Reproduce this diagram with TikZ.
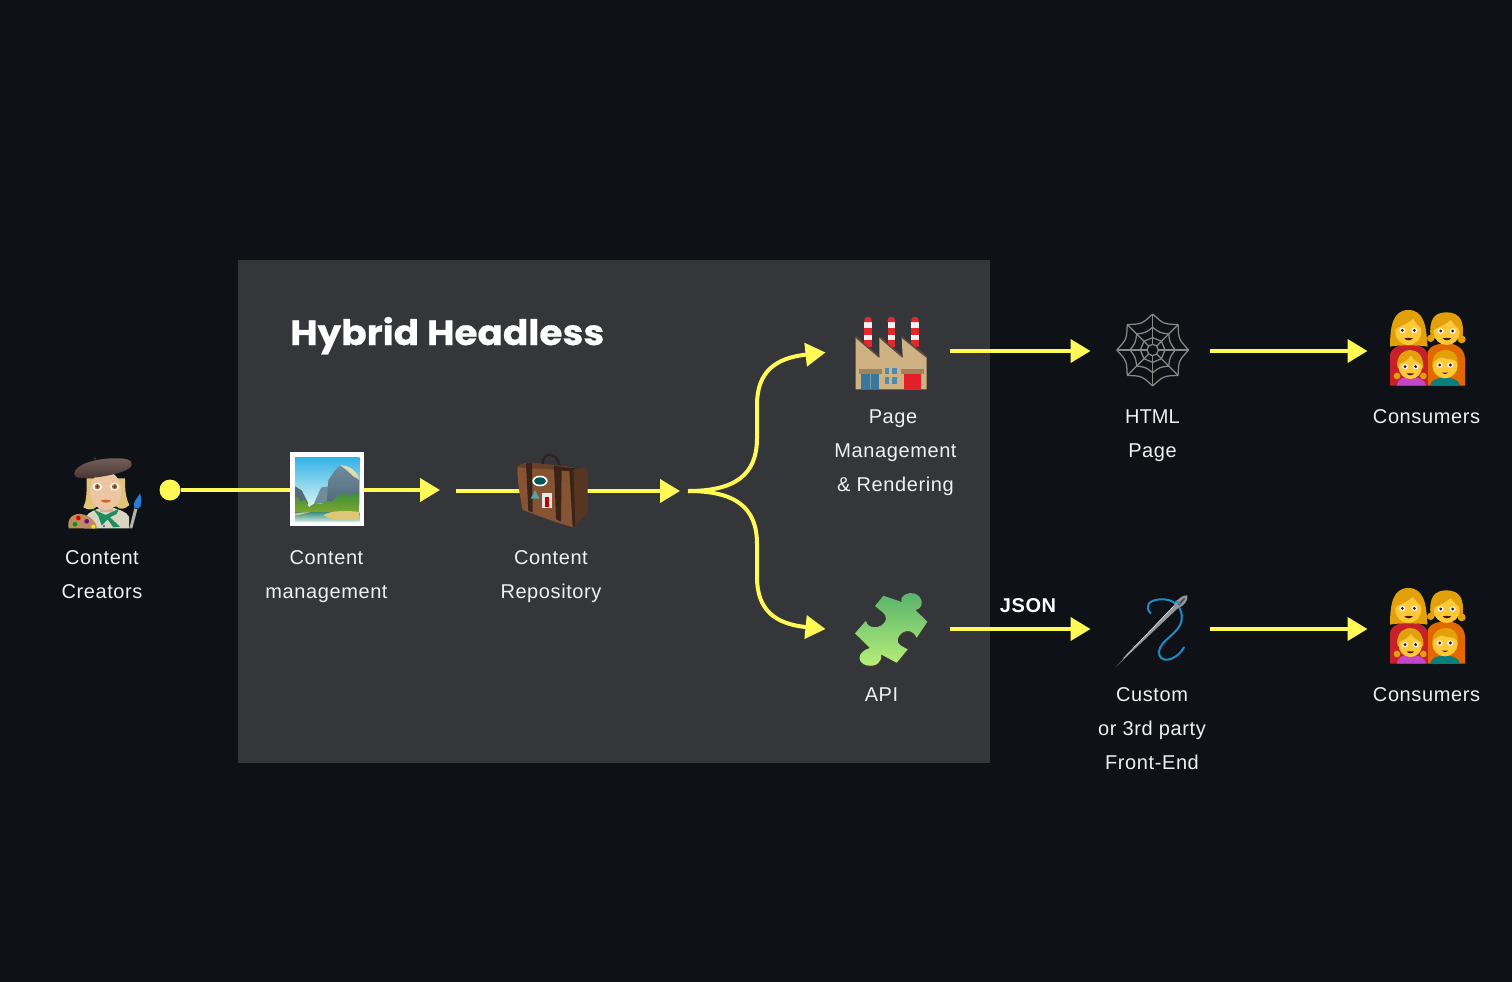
\documentclass[tikz,border=0pt]{standalone}
\usepackage{fontspec}
\usetikzlibrary{arrows.meta}
\setmainfont{Liberation Sans}
\newfontfamily\labfont[LetterSpace=3]{Liberation Sans}
\newfontfamily\tightlab[LetterSpace=0.5]{Liberation Sans}
\newfontfamily\jsonfont[LetterSpace=3]{Liberation Sans}
\newfontfamily\titlefont[FakeStretch=1.07,FakeBold=0.6]{Poppins}
\definecolor{pagebg}{RGB}{14,17,22}
\definecolor{panelbg}{RGB}{53,54,58}
\definecolor{ylw}{RGB}{255,250,85}
\definecolor{labtxt}{RGB}{240,240,240}
\definecolor{fhair}{RGB}{226,160,10}
\definecolor{fface}{RGB}{255,200,55}
\definecolor{fred}{RGB}{198,32,40}
\definecolor{forange}{RGB}{226,104,0}
\definecolor{fpink}{RGB}{196,70,200}
\definecolor{fteal}{RGB}{10,125,125}
\definecolor{fmouth}{RGB}{70,30,20}
\definecolor{askin}{RGB}{236,198,162}
\definecolor{ahair}{RGB}{226,196,120}
\definecolor{aberetA}{RGB}{116,94,90}
\definecolor{aberetB}{RGB}{72,54,52}
\definecolor{ashirt}{RGB}{216,213,196}
\definecolor{ascarf}{RGB}{30,140,92}
\definecolor{apal}{RGB}{186,140,96}
\definecolor{abrush}{RGB}{40,125,210}
\definecolor{skyA}{RGB}{50,178,232}
\definecolor{skyB}{RGB}{214,242,240}
\definecolor{rockA}{RGB}{112,138,158}
\definecolor{rockB}{RGB}{82,106,122}
\definecolor{domec}{RGB}{232,218,168}
\definecolor{treeA}{RGB}{58,140,62}
\definecolor{treeB}{RGB}{128,168,44}
\definecolor{waterA}{RGB}{60,140,120}
\definecolor{waterB}{RGB}{200,232,225}
\definecolor{sandc}{RGB}{222,200,120}
\definecolor{scFront}{RGB}{134,84,50}
\definecolor{scTop}{RGB}{104,64,38}
\definecolor{scSide}{RGB}{86,54,32}
\definecolor{scStrap}{RGB}{58,36,24}
\definecolor{scHandle}{RGB}{44,34,32}
\definecolor{fabWall}{RGB}{206,178,132}
\definecolor{fabRoof}{RGB}{98,74,60}
\definecolor{fabAwn}{RGB}{160,130,95}
\definecolor{fabDoor}{RGB}{56,120,155}
\definecolor{fabWin}{RGB}{76,140,172}
\definecolor{fabRed}{RGB}{226,30,40}
\definecolor{fabChim}{RGB}{226,40,44}
\definecolor{pzA}{RGB}{88,178,108}
\definecolor{pzB}{RGB}{186,240,122}
\definecolor{pzS}{RGB}{80,62,30}
\definecolor{webc}{RGB}{136,136,136}
\definecolor{threadc}{RGB}{30,140,200}
\definecolor{needlec}{RGB}{150,150,152}
\tikzset{
  conn/.style={draw=ylw,line width=4pt,-{Triangle[length=20pt,width=23pt,fill=ylw]}},
  lab/.style={text=labtxt,font=\labfont\fontsize{20}{34}\selectfont,align=center,inner sep=0pt,anchor=base},
  icon/.style={x=0.33333pt,y=-0.33333pt},
  thr/.style={line cap=round,line join=round},
}
\newcommand{\eyes}[3]{% x, y, spacing
  \fill[white] (#1-#3,#2) ellipse [x radius=9,y radius=8];
  \fill[white] (#1+#3,#2) ellipse [x radius=9,y radius=8];
  \fill[fmouth] (#1-#3,#2) circle (5);
  \fill[fmouth] (#1+#3,#2) circle (5);
}
\newcommand{\familyicon}{%
  \fill[fred] (15,242) -- (15,150) .. controls (18,128) and (45,118) .. (70,118) .. controls (95,118) and (125,125) .. (128,150) -- (128,242) -- cycle;
  \fill[forange] (128,242) -- (128,140) .. controls (135,122) and (160,115) .. (185,115) .. controls (210,115) and (238,128) .. (240,160) -- (240,242) -- cycle;
  % left adult
  \fill[fhair] (15,125) .. controls (15,60) and (25,15) .. (70,15) .. controls (115,15) and (125,60) .. (127,125) .. controls (110,120) and (30,120) .. (15,125) -- cycle;
  \fill[fface] (70,80) ellipse [x radius=39,y radius=40];
  \fill[fhair] (30,72) .. controls (50,62) and (70,55) .. (85,40) .. controls (92,55) and (100,62) .. (112,72) .. controls (105,22) and (38,22) .. (30,72) -- cycle;
  \eyes{70}{76}{18}
  \fill[fmouth] (58,100) .. controls (65,108) and (76,108) .. (84,100) .. controls (76,98) and (65,98) .. (58,100) -- cycle;
  % right adult
  \fill[fhair] (137,100) .. controls (130,40) and (150,22) .. (185,22) .. controls (225,22) and (240,50) .. (232,100) -- cycle;
  \fill[fhair] (137,100) circle (11);
  \fill[fhair] (230,103) circle (12);
  \fill[fface] (185,82) ellipse [x radius=39,y radius=38];
  \fill[fhair] (146,74) .. controls (165,64) and (185,58) .. (198,43) .. controls (205,58) and (215,65) .. (225,74) .. controls (220,28) and (155,28) .. (146,74) -- cycle;
  \eyes{185}{78}{18}
  \fill[fmouth] (173,100) .. controls (180,108) and (191,108) .. (199,100) .. controls (191,98) and (180,98) .. (173,100) -- cycle;
  % girl
  \fill[fpink] (35,242) .. controls (38,222) and (55,215) .. (75,215) .. controls (95,215) and (120,222) .. (124,242) -- cycle;
  \fill[fhair] (36,213) circle (10);
  \fill[fhair] (115,213) circle (10);
  \fill[fhair] (36,178) .. controls (38,145) and (60,135) .. (75,135) .. controls (95,135) and (117,150) .. (115,190) -- (38,190) -- cycle;
  \fill[fface] (76,187) circle (35);
  \fill[fhair] (40,178) .. controls (60,170) and (70,165) .. (78,150) .. controls (85,165) and (95,170) .. (112,178) .. controls (107,142) and (48,142) .. (40,178) -- cycle;
  \eyes{76}{185}{16}
  \fill[fmouth] (65,205) .. controls (70,213) and (82,213) .. (87,205) -- cycle;
  % boy
  \fill[fteal] (135,242) .. controls (138,225) and (155,218) .. (180,218) .. controls (205,218) and (222,225) .. (225,242) -- cycle;
  \fill[fface] (180,182) circle (38);
  \fill[fhair] (142,174) .. controls (143,145) and (165,135) .. (182,135) .. controls (205,135) and (220,150) .. (218,174) .. controls (205,158) and (190,165) .. (175,158) .. controls (165,155) and (155,162) .. (142,174) -- cycle;
  \eyes{180}{180}{16}
  \fill[fmouth] (170,203) .. controls (175,209) and (185,209) .. (190,203) -- cycle;
}
\begin{document}
\begin{tikzpicture}[x=1pt,y=-1pt]
\useasboundingbox (0,0) rectangle (1512,982);
\fill[pagebg] (0,0) rectangle (1512,982);
\fill[panelbg] (238,260) rectangle (990,763);

% anchors
\node[circle,fill=ylw,minimum size=21pt,inner sep=0pt] (dot) at (170,490) {};
\coordinate (a1) at (440,490);
\coordinate (b0) at (456,491);
\coordinate (b1) at (680,491);
\coordinate (split) at (688,491);
\coordinate (pagein) at (825.5,352.5);
\coordinate (apiin) at (825.5,629);
\coordinate (c0) at (950,351);
\coordinate (c1) at (1090.5,351);
\coordinate (d0) at (1210,351);
\coordinate (d1) at (1367.5,351);
\coordinate (e0) at (950,629);
\coordinate (e1) at (1090.5,629);
\coordinate (f0) at (1210,629);
\coordinate (f1) at (1367.5,629);

% connectors
\draw[conn] (dot) -- (a1);
\draw[conn] (b0) -- (b1);
\draw[conn] (split) .. controls (735,491) and (757,475) .. (757,438) -- (757,405) .. controls (757,372) and (775,358) .. (pagein);
\draw[conn] (split) .. controls (735,491) and (757,507) .. (757,544) -- (757,577) .. controls (757,610) and (775,624) .. (apiin);
\draw[conn] (c0) -- (c1);
\draw[conn] (d0) -- (d1);
\draw[conn] (e0) -- (e1);
\draw[conn] (f0) -- (f1);

% artist
\begin{scope}[shift={(60,450)},icon]
  \fill[ahair] (80,85) .. controls (80,130) and (80,150) .. (70,172) .. controls (85,182) and (100,180) .. (110,170) -- (170,170) .. controls (180,180) and (195,178) .. (208,165) .. controls (195,140) and (195,110) .. (195,85) -- cycle;
  \fill[ashirt] (72,235) -- (78,200) .. controls (85,185) and (110,178) .. (125,172) -- (155,172) .. controls (175,178) and (200,185) .. (207,200) -- (207,235) -- cycle;
  \fill[askin!90!black] (120,155) rectangle (158,185);
  \fill[askin] (137,122) ellipse [x radius=47,y radius=58];
  \fill[white] (112,110) ellipse [x radius=14,y radius=12];
  \fill[white] (164,110) ellipse [x radius=14,y radius=12];
  \fill[brown!85!black] (112,110) circle (8);
  \fill[brown!85!black] (164,110) circle (8);
  \fill[black!80] (112,110) circle (3.5);
  \fill[black!80] (164,110) circle (3.5);
  \fill[brown!75!red] (122,152) .. controls (130,148) and (145,148) .. (153,152) .. controls (145,160) and (130,160) .. (122,152) -- cycle;
  \fill[aberetB] (100,28) -- (104,20) -- (110,28) -- cycle;
  \shade[top color=aberetA,bottom color=aberetB] (43,70) .. controls (45,45) and (100,26) .. (160,25) .. controls (200,24) and (217,28) .. (215,45) .. controls (212,66) and (130,82) .. (85,84) .. controls (60,86) and (42,84) .. (43,70) -- cycle;
  \fill[ascarf] (100,178) -- (137,195) -- (177,176) -- (170,192) -- (150,202) -- (180,230) -- (160,232) -- (143,208) -- (125,226) -- (115,198) -- cycle;
  \fill[black!80] (132,228) circle (3);
  \fill[black!80] (90,220) circle (2.5);
  \fill[apal] (26,235) .. controls (20,210) and (35,190) .. (62,192) .. controls (90,195) and (112,218) .. (110,235) -- cycle;
  \fill[red!90!black] (55,204) circle (7);
  \fill[violet] (80,214) circle (7);
  \fill[green!60!black] (45,223) circle (7);
  \fill[yellow!90!orange] (100,230) circle (6);
  \fill[black!30!white] (208,235) -- (223,175) -- (232,178) -- (217,235) -- cycle;
  \fill[abrush] (222,172) .. controls (218,155) and (232,145) .. (240,130) .. controls (248,150) and (245,170) .. (235,176) -- cycle;
\end{scope}

% landscape
\begin{scope}[shift={(285,447)},icon]
  \fill[white] (15,15) rectangle (238,238);
  \shade[top color=skyA,bottom color=skyB] (30,30) rectangle (223,175);
  \fill[rockB] (30,118) -- (50,130) -- (70,170) -- (30,175) -- cycle;
  \fill[rockA] (88,168) -- (108,122) -- (130,118) -- (140,170) -- cycle;
  \shade[top color=rockA,bottom color=rockB] (125,172) -- (130,100) -- (150,70) -- (165,55) -- (195,80) -- (222,100) -- (222,172) -- cycle;
  \fill[domec] (165,55) .. controls (195,55) and (215,72) .. (222,95) -- (205,88) .. controls (195,75) and (180,62) .. (165,55) -- cycle;
  \shade[top color=treeA,bottom color=treeB] (30,152) -- (38,150) -- (48,165) -- (60,158) -- (72,180) -- (90,168) -- (110,170) -- (125,160) -- (140,165) -- (155,150) -- (175,140) -- (195,145) -- (222,135) -- (222,198) -- (30,198) -- cycle;
  \shade[top color=waterA,bottom color=waterB] (30,195) rectangle (223,223);
  \fill[sandc] (115,205) .. controls (135,190) and (190,190) .. (223,195) -- (223,218) .. controls (185,222) and (140,220) .. (115,205) -- cycle;
  \fill[sandc] (30,200) .. controls (45,196) and (60,196) .. (75,196) -- (30,206) -- cycle;
\end{scope}

% suitcase
\begin{scope}[shift={(510,450)},icon]
  \draw[scHandle,line width=2.2pt] (98,42) .. controls (95,5) and (140,3) .. (150,48);
  \fill[scFront] (22,52) .. controls (25,45) and (30,42) .. (60,38) -- (190,52) -- (190,232) .. controls (130,215) and (80,195) .. (38,180) .. controls (28,130) and (22,90) .. (22,52) -- cycle;
  \fill[scTop] (22,52) .. controls (25,45) and (30,42) .. (60,38) -- (190,52) -- (185,62) -- cycle;
  \fill[scSide] (185,60) -- (225,52) -- (234,65) -- (232,190) -- (190,232) -- cycle;
  \fill[scStrap] (48,40) -- (66,38) -- (68,187) -- (55,183) -- cycle;
  \fill[scStrap] (132,46) -- (155,52) -- (153,214) -- (138,208) -- cycle;
  \fill[scStrap] (150,50) -- (195,55) -- (188,64) -- (155,62) -- cycle;
  \fill[scStrap] (178,60) -- (190,58) -- (196,226) -- (188,232) -- cycle;
  \fill[white] (90,93) ellipse [x radius=23,y radius=16];
  \fill[teal!70!black] (90,93) ellipse [x radius=18,y radius=11];
  \fill[teal!70!white] (75,120) -- (62,146) -- (88,146) -- cycle;
  \fill[black!10!white] (97,128) rectangle (126,174);
  \fill[red!75!black] (104,140) rectangle (118,170);
\end{scope}

% factory
\begin{scope}[shift={(850,312)},icon]
  \foreach \cx in {54,124,195}{
    \fill[white!90!gray] (\cx-11,30) rectangle (\cx+11,105);
    \fill[fabChim] (\cx-11,24) .. controls (\cx-11,11) and (\cx+11,11) .. (\cx+11,24) -- (\cx+11,30) -- (\cx-11,30) -- cycle;
    \fill[fabChim] (\cx-11,48) rectangle (\cx+11,68);
    \fill[fabChim] (\cx-11,85) rectangle (\cx+11,105);
  }
  \fill[fabWall] (17,232) -- (17,75) -- (88,135) -- (88,75) -- (158,135) -- (155,75) -- (230,135) -- (230,232) -- cycle;
  \draw[fabRoof,line width=1.6pt] (17,75) -- (88,135) (88,75) -- (158,135) (155,75) -- (230,135);
  \fill[fabAwn] (27,170) rectangle (95,185);
  \fill[fabAwn] (153,170) rectangle (222,185);
  \fill[fabDoor] (33,185) rectangle (88,232);
  \draw[black!30!fabDoor!60!white] (60,185) -- (60,232);
  \fill[fabRed] (163,185) rectangle (213,232);
  \foreach \wx/\wy in {105/167,127/167,105/195,127/195}
    \fill[fabWin] (\wx,\wy) rectangle (\wx+13,\wy+20);
\end{scope}

% puzzle
\begin{scope}[shift={(850,590)},icon]
  \def\puzzlepath{(15,130) -- (48,92) .. controls (50,118) and (98,120) .. (108,88) .. controls (110,70) and (90,62) .. (75,48) -- (100,17) -- (155,36) .. controls (148,15) and (175,6) .. (192,10) .. controls (220,18) and (224,54) .. (196,60) -- (232,95) -- (200,143) .. controls (185,110) and (150,122) .. (143,148) .. controls (140,165) and (160,170) .. (173,178) -- (140,218) -- (93,193) .. controls (98,215) and (78,232) .. (50,226) .. controls (20,218) and (20,185) .. (60,174) -- cycle}
  \begin{scope}[shift={(1,3)}]
    \fill[pzS] \puzzlepath;
  \end{scope}
  \shade[top color=pzA,bottom color=pzB] \puzzlepath;
\end{scope}

% web
\begin{scope}[shift={(1110,310)},icon,line width=1.25pt]
  \begin{scope}[shift={(128,120)}]
    \foreach \a in {0,45,...,315}{
      \draw[webc] (\a:17) -- (\a:108);
      \foreach \r/\k in {17/0.88,37/0.85,68/0.82,108/0.78}
        \draw[webc] (\a:\r) .. controls ({\a+22.5}:{\r*\k}) .. ({\a+45}:\r);
    }
  \end{scope}
\end{scope}

% family
\begin{scope}[shift={(1385,305)},icon]
  \familyicon
\end{scope}
\begin{scope}[shift={(1385,583)},icon]
  \familyicon
\end{scope}

% needle
\begin{scope}[shift={(1110,590)},icon]
  \draw[threadc,line width=2pt,thr] (122,70) .. controls (103,50) and (115,30) .. (150,28) .. controls (190,25) and (220,50) .. (215,90) .. controls (210,130) and (150,150) .. (147,185) .. controls (145,220) and (195,218) .. (222,172);
  \fill[needlec] (18,230) -- (190,48) .. controls (200,28) and (218,14) .. (232,16) .. controls (236,30) and (222,48) .. (202,56) -- cycle;
  \fill[black!70] (203,42) -- (222,24) -- (225,27) -- (208,47) -- cycle;
  \draw[white!85!gray,line width=0.5pt] (40,205) -- (190,50);
  \draw[threadc,line width=1.6pt] (197,32) -- (212,44);
\end{scope}

% labels
\node[lab] (l1) at (102,564) {Content};
\node[lab] (l1b) at (102,598) {Creators};
\node[lab] (l2) at (326.5,564) {Content};
\node[lab] (l2b) at (326.5,598) {management};
\node[lab] (l3) at (551,564) {Content};
\node[lab] (l3b) at (551,598) {Repository};
\node[lab] (l4) at (893,423) {Page};
\node[lab] (l4b) at (895.5,457) {Management};
\node[lab] (l4c) at (895.5,491) {\& Rendering};
\node[lab,font=\tightlab\fontsize{20}{34}\selectfont] (l5) at (1152.5,423) {HTML};
\node[lab] (l5b) at (1152.5,457) {Page};
\node[lab] (l6) at (1426.5,423) {Consumers};
\node[lab] (l7) at (881.5,701) {API};
\node[lab] (l8) at (1152,701) {Custom};
\node[lab] (l8b) at (1152,735) {or 3rd party};
\node[lab] (l8c) at (1152,769) {Front-End};
\node[lab] (l9) at (1426.5,701) {Consumers};
\node[anchor=base,inner sep=0pt,text=white,font=\jsonfont\bfseries\fontsize{20}{24}\selectfont] (json) at (1028,612) {JSON};
\node[anchor=base west,inner sep=0pt,text=white,font=\titlefont\bfseries\fontsize{35}{40}\selectfont] (title) at (290,345) {Hybrid Headless};
\end{tikzpicture}
\end{document}
